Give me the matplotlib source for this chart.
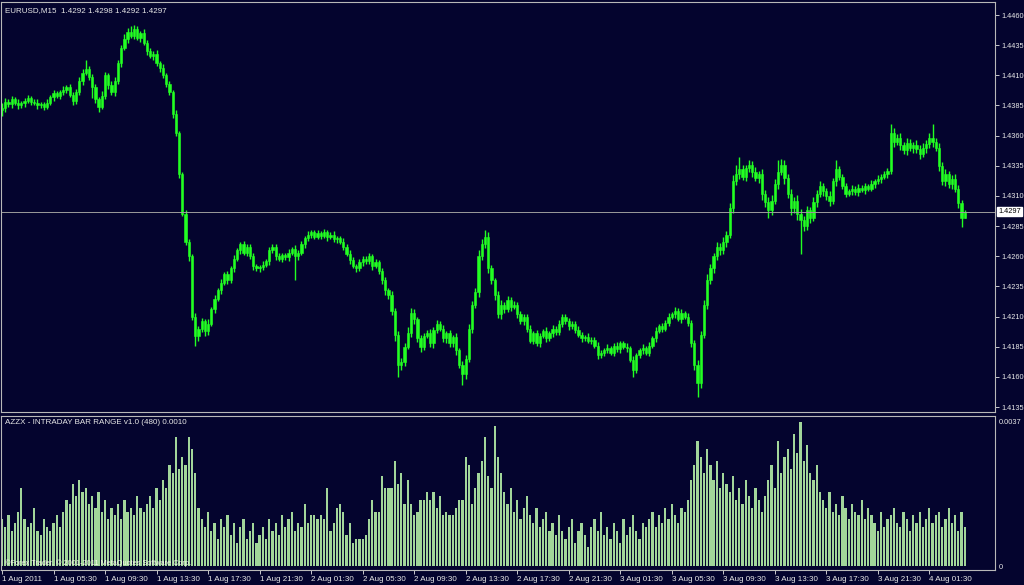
import numpy as np
import matplotlib
matplotlib.use('Agg')
import matplotlib.pyplot as plt
import matplotlib.transforms as mtransforms

plt.rcParams['font.family'] = ['Liberation Sans', 'DejaVu Sans']

# EURUSD M15 closes, in pips above 1.4100
open0 = 281
closes = [
    283, 288, 286, 290, 287, 285, 287, 289, 291, 288, 287, 285, 286, 284, 287,
    292, 295, 293, 296,
    298, 300, 294, 289, 296,
    305, 312, 315, 309, 300,
    290, 284, 293,
    310, 302, 296, 305,
    320, 333, 340,
    346, 343, 348, 341, 345, 337,
    330, 326, 328, 320, 316,
    310, 303, 296,
    278, 262,
    228, 195,
    172, 160,
    110, 94,
    100, 106, 98, 104,
    116, 125, 132,
    138, 145, 140, 150,
    158, 165, 170, 163,
    168, 160,
    152, 150, 151, 153, 156,
    165, 168, 160, 158, 161, 159, 163, 166, 160, 163, 170,
    175, 178, 180, 176, 179, 177, 180, 176, 178, 174, 175, 172, 168,
    162, 157, 152, 150,
    155, 158, 156, 160,
    152, 155, 148, 140, 132,
    128, 115, 95, 70,
    72, 85, 96,
    113, 108,
    92, 85, 94, 96, 88, 99,
    104, 100, 92, 96, 88, 93,
    82, 70, 62, 75,
    100, 120, 130,
    160, 170, 176,
    150, 140, 128,
    112, 120, 116, 124, 118,
    120, 112, 106, 110,
    100, 90, 96, 88, 94,
    98, 92, 96, 100, 97,
    104, 110, 106, 102, 104, 99,
    95, 92, 93, 90, 91,
    86, 78, 80,
    82, 84, 80, 86, 83, 88, 85, 84,
    74, 66,
    78, 82, 84, 80, 86,
    92, 98, 102, 100, 105,
    110, 112, 115, 108, 113, 110, 105,
    88, 70, 55,
    95, 120, 140,
    150, 160, 168, 165, 172, 178,
    200, 222, 228,
    232, 226, 233, 236, 230, 225, 228,
    212, 205, 198, 206,
    220, 230, 236, 225,
    212, 200, 206, 195, 190, 185, 198, 192,
    205, 212, 218, 214, 210, 206,
    222, 232, 226,
    218, 212, 214, 216, 213, 217, 215, 218, 216,
    220, 222, 224, 226, 228, 231,
    262, 255,
    258, 252, 248, 254, 250, 252, 249, 245, 250, 253, 258, 255, 250,
    235, 222, 228,
    220, 224, 216,
    204, 192, 197,
]

# upper / lower wicks beyond the body, pips
up_wick = [
    4, 3, 2, 3, 2, 3, 2, 2, 3, 2,  2, 3, 2, 2, 3, 2, 3, 2, 2, 3,
    2, 3, 2, 3, 4, 3, 8, 3, 2, 3,  2, 4, 3, 2, 3, 4, 3, 2, 4, 3,
    5, 4, 3, 2, 3, 2, 3, 2, 3, 2,  3, 2, 2, 2, 3, 2, 2, 3, 2, 2,
    3, 2, 3, 2, 4, 2, 3, 2, 3, 2,  3, 2, 3, 2, 2, 3, 2, 2, 3, 2,
    2, 3, 2, 3, 2, 2, 3, 2, 2, 3,  2, 3, 2, 3, 2, 3, 2, 2, 3, 2,
    3, 2, 2, 3, 2, 2, 3, 2, 3, 2,  2, 3, 2, 2, 3, 2, 3, 2, 2, 3,
    2, 3, 2, 3, 4, 3, 5, 4, 3, 2,  3, 2, 3, 4, 2, 3, 2, 3, 2, 3,
    2, 3, 2, 3, 3, 4, 3, 4, 5, 4,  6, 4, 3, 2, 3, 4, 2, 3, 2, 3,
    2, 3, 2, 2, 3, 2, 3, 2, 2, 3,  2, 3, 2, 3, 2, 2, 3, 2, 2, 3,
    2, 2, 3, 2, 2, 3, 2, 2, 3, 2,  2, 3, 2, 2, 3, 2, 3, 2, 2, 3,
    2, 3, 2, 3, 2, 3, 2, 3, 2, 3,  2, 3, 2, 3, 2, 3, 4, 3, 4, 5,
    4, 3, 4, 3, 4, 3, 4, 5, 8, 10, 4, 3, 4, 3, 4, 3, 4, 3, 4, 5,
    4, 10, 5, 4, 3, 4, 3, 5, 4, 3, 4, 3, 4, 3, 4, 3, 3, 4, 3, 8,
    3, 2, 3, 2, 3, 2, 3, 2, 3, 2,  3, 2, 3, 2, 3, 2, 8, 4, 3, 4,
    3, 4, 3, 3, 4, 3, 4, 3, 4, 12, 3, 4, 3, 4, 3, 3, 4, 3, 3, 1,
]
down_wick = [
    5, 3, 2, 3, 2, 3, 2, 3, 2, 3,  2, 3, 2, 3, 2, 2, 3, 2, 3, 2,
    3, 2, 4, 3, 2, 3, 2, 3, 9, 3,  4, 2, 3, 3, 2, 3, 2, 3, 2, 3,
    2, 3, 2, 3, 2, 3, 2, 3, 2, 3,  2, 3, 2, 3, 2, 3, 2, 3, 4, 3,
    8, 4, 3, 4, 3, 2, 3, 2, 3, 2,  3, 2, 3, 2, 3, 2, 3, 2, 3, 2,
    3, 2, 2, 3, 2, 3, 2, 3, 2, 3,  2, 20, 3, 2, 3, 2, 3, 2, 2, 3,
    2, 3, 2, 2, 3, 2, 3, 2, 3, 2,  3, 2, 3, 2, 2, 3, 2, 3, 3, 4,
    3, 4, 5, 10, 4, 3, 2, 3, 4, 3, 4, 3, 2, 3, 4, 3, 2, 3, 4, 3,
    3, 4, 3, 9, 4, 3, 4, 3, 4, 3,  3, 4, 3, 4, 3, 4, 3, 2, 3, 2,
    3, 2, 3, 3, 2, 3, 2, 3, 2, 3,  2, 3, 2, 2, 3, 2, 3, 2, 3, 2,
    3, 2, 2, 3, 2, 3, 2, 3, 2, 2,  3, 2, 3, 2, 3, 2, 6, 3, 2, 3,
    2, 3, 2, 3, 2, 3, 2, 3, 2, 3,  2, 3, 2, 3, 3, 4, 12, 4, 3, 4,
    3, 4, 3, 4, 3, 4, 3, 4, 3, 4,  3, 4, 3, 4, 3, 4, 5, 4, 6, 4,
    3, 4, 3, 5, 4, 6, 4, 5, 28, 4, 3, 4, 3, 4, 3, 4, 3, 4, 3, 4,
    3, 2, 3, 2, 3, 2, 3, 2, 3, 2,  2, 3, 2, 3, 2, 3, 3, 4, 3, 4,
    3, 4, 3, 4, 3, 4, 3, 4, 3, 4,  3, 4, 3, 4, 3, 4, 3, 4, 8, 0,
]

# intraday bar range indicator, pips
bar_range = [
    12, 10, 13, 9, 11, 14, 20, 12, 10, 11, 15, 9, 8, 12, 10, 9, 11, 13, 10,
    14, 17, 16, 21, 18, 22, 19, 20, 16, 18, 15, 19,
    14, 17, 12, 15, 13, 16, 12, 17, 14, 15, 13, 18, 15, 14, 16,
    18, 15, 20, 17, 22, 20, 26, 24, 33, 25, 28, 26, 33, 30, 24,
    15, 12, 10, 14, 9, 11, 7, 12, 10, 13, 8, 11, 6, 10, 12, 7, 9, 11, 6, 8,
    10, 7, 12, 9, 11, 8, 13, 10, 12, 14, 9, 11,
    10, 16, 11, 13, 13, 12, 13, 12, 20, 9, 11, 15, 16, 14, 8, 11, 6, 7, 7, 7,
    8, 12, 17, 14, 14, 23, 20, 20, 20, 27, 21, 24, 16, 22, 16, 13, 14, 17, 17, 19,
    17, 19, 15, 18, 13, 14, 13, 13, 15, 17, 17, 28, 26, 16, 20, 24, 27, 33, 23, 20,
    36, 28,
    24, 19, 16, 20, 14, 17, 12, 15, 18, 13, 11, 15, 10, 12, 14, 9,
    11, 8, 13, 9, 7, 10, 12, 6, 9, 11, 8, 5, 10, 12, 9, 14, 8, 10, 7, 11,
    9, 6, 12, 8, 10, 13, 9, 7, 11, 10,
    12, 14, 10, 13, 11, 15, 12, 16, 13, 11, 15, 14, 17,
    22, 26, 32, 28, 24, 30, 26, 22, 27, 20, 24, 21,
    19, 23, 17, 20, 16, 22, 18, 15, 20, 17, 14,
    18, 22, 26, 20, 32, 24, 28, 30, 25, 34, 29, 37, 27, 31, 24, 22, 26, 19,
    17, 15, 19, 14, 16, 13, 18, 15, 12, 16, 14, 13, 17, 12, 15, 13,
    11, 9, 14, 10, 12, 13, 15, 11, 10, 14, 12, 9, 13, 11, 14, 10, 12, 15, 11, 13,
    14, 10, 12, 15, 11, 13, 9, 14, 10,
]

time_labels = ['1 Aug 2011', '1 Aug 05:30', '1 Aug 09:30', '1 Aug 13:30', '1 Aug 17:30',
               '1 Aug 21:30', '2 Aug 01:30', '2 Aug 05:30', '2 Aug 09:30', '2 Aug 13:30',
               '2 Aug 17:30', '2 Aug 21:30', '3 Aug 01:30', '3 Aug 05:30', '3 Aug 09:30',
               '3 Aug 13:30', '3 Aug 17:30', '3 Aug 21:30', '4 Aug 01:30']
price_ticks = [1.4135, 1.4160, 1.4185, 1.4210, 1.4235, 1.4260, 1.4285, 1.4310,
               1.4335, 1.4360, 1.4385, 1.4410, 1.4435, 1.4460]
last_price = 1.4297

n = min(len(closes), len(up_wick), len(down_wick))
c = np.array(closes[:n]) / 10000 + 1.41
o = np.concatenate([[open0 / 10000 + 1.41], c[:-1]])
hi = np.maximum(o, c) + np.array(up_wick[:n]) / 10000
lo = np.minimum(o, c) - np.array(down_wick[:n]) / 10000
x = np.arange(n)

bg = '#04042e'
fg = '#e8e8e8'
frame = '#b8b8b8'
lime = '#22ff22'

fig = plt.figure(figsize=(10.24, 5.85), dpi=100, facecolor=bg)
ax = fig.add_axes([0.001, 0.2957, 0.9707, 0.7009], facecolor=bg)
ax2 = fig.add_axes([0.001, 0.0256, 0.9707, 0.2632], facecolor=bg)

# candles
ax.vlines(x, lo, hi, color=lime, lw=1.0)
body = np.where(np.abs(c - o) < 0.00005, 0.00005, c - o)
ax.bar(x, body, bottom=o, width=0.7, color=lime, edgecolor=lime, lw=0.4)
ax.axhline(last_price, color='#9c9c9c', lw=0.7)

ax.set_xlim(-0.31, 308.4)
ax.set_ylim(1.41309, 1.44708)
ax.set_xticks([])
ax.yaxis.tick_right()
ax.set_yticks(price_ticks)
ax.set_yticklabels(['%.4f' % p for p in price_ticks])
ax.tick_params(axis='y', colors=fg, labelsize=5.3, length=3, width=0.6, pad=1.5)
for s in ax.spines.values():
    s.set_color(frame)
    s.set_linewidth(0.8)
trans = mtransforms.blended_transform_factory(ax.transAxes, ax.transData)
ax.text(1.003, last_price, '%.4f' % last_price, transform=trans, fontsize=5.3,
        color='black', va='center', ha='left',
        bbox=dict(facecolor='white', edgecolor='white', pad=0.8))
ax.text(0.004, 0.98, 'EURUSD,M15  1.4292 1.4298 1.4292 1.4297', transform=ax.transAxes,
        fontsize=5.8, color=fg, va='center', ha='left')

# indicator histogram
hx = np.arange(len(bar_range))
ax2.bar(hx, np.array(bar_range) / 10000, width=0.7, color='#a2d69a', edgecolor='none')
ax2.set_xlim(-0.31, 308.4)
ax2.set_ylim(-0.0001, 0.00385)
ax2.yaxis.tick_right()
ax2.set_yticks([0, 0.0037])
ax2.set_yticklabels(['0', '0.0037'])
ax2.tick_params(axis='y', colors=fg, labelsize=5.3, length=0, pad=3)
ax2.set_xticks(np.arange(len(time_labels)) * 16)
ax2.set_xticklabels(time_labels, ha='left')
ax2.tick_params(axis='x', colors=fg, labelsize=5.8, length=3, width=0.6, pad=1.5)
for s in ax2.spines.values():
    s.set_color(frame)
    s.set_linewidth(0.8)
ax2.text(0.004, 0.961, 'AZZX - INTRADAY BAR RANGE v1.0 (480) 0.0010', transform=ax2.transAxes,
         fontsize=5.8, color=fg, va='center', ha='left')
ax2.text(0.004, 0.045, '\u00a9Forex Trader, \u00a9 2001-2011 MetaQuotes Software Corp.',
         transform=ax2.transAxes, fontsize=5.3, color='#fffff0', alpha=0.9,
         va='center', ha='left')

fig.savefig('out.png', dpi=100, facecolor=bg)
